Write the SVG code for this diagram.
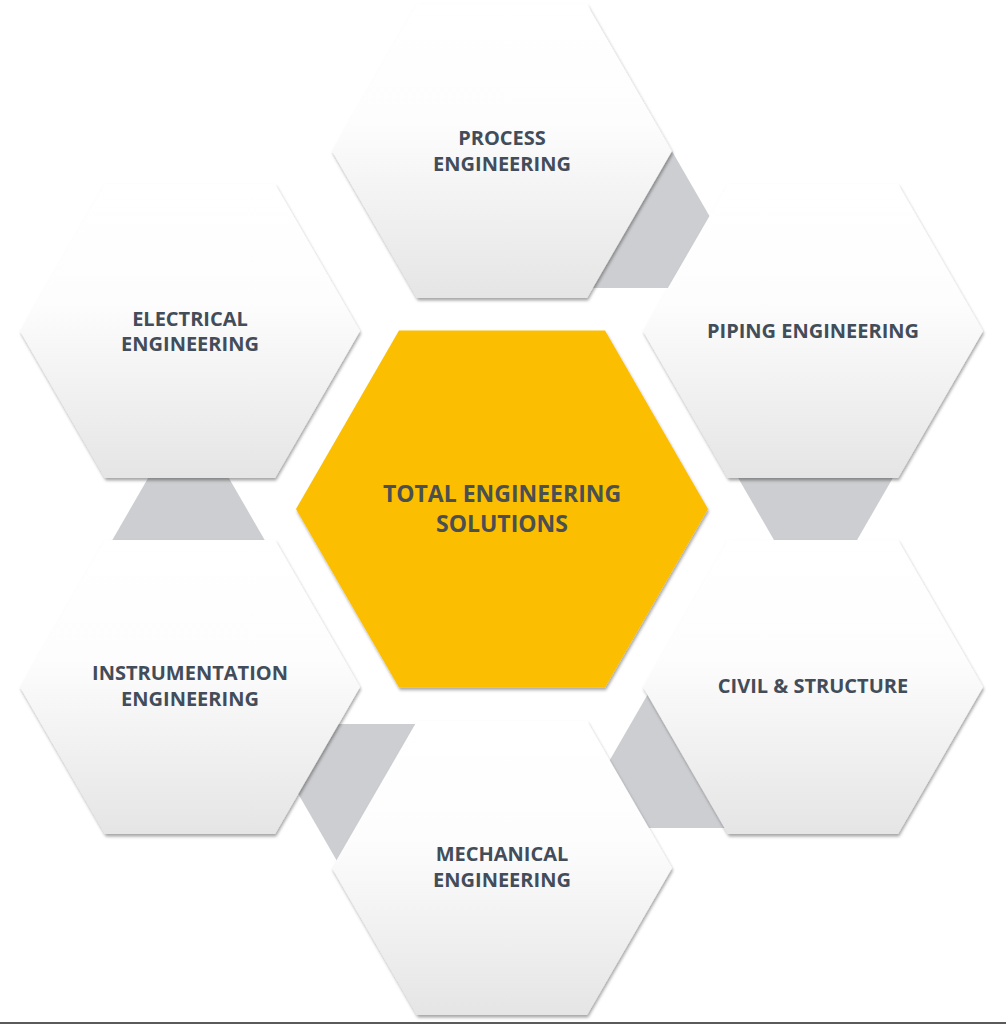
<svg xmlns="http://www.w3.org/2000/svg" width="1006" height="1024" viewBox="0 0 1006 1024">
  <style>
    .hex { fill: url(#hexGrad); filter: url(#shadow); }
    .core { fill: #fcbe00; filter: url(#shadow); }
    .conn { fill: #cdced1; }
    .lbl { font-family: "Open Sans", "Liberation Sans", sans-serif; font-weight: 700; font-size: 20px; fill: #434d59; text-anchor: middle; }
    .clbl { font-family: "Open Sans", "Liberation Sans", sans-serif; font-weight: 700; font-size: 23px; fill: #4a4f52; text-anchor: middle; }
  </style>
  <defs>
    <linearGradient id="hexGrad" x1="0" y1="0" x2="0" y2="1">
      <stop offset="0" stop-color="#ffffff"/>
      <stop offset="0.4" stop-color="#fdfdfd"/>
      <stop offset="1" stop-color="#e5e5e5"/>
    </linearGradient>
    <filter id="shadow" x="-10%" y="-10%" width="120%" height="120%">
      <feDropShadow dx="1" dy="2.5" stdDeviation="1.5" flood-color="#000000" flood-opacity="0.35"/>
    </filter>
    <polygon id="hexShape" points="-170,0 -85,-147 85,-147 170,0 85,147 -85,147"/>
  </defs>
  <rect width="1006" height="1024" fill="#ffffff"/>

  <g id="connectors">
    <polygon class="conn" points="590,9 751,288 429,288"/>
    <polygon class="conn" points="654.5,333 976.5,333 815.5,612"/>
    <polygon class="conn" points="731.6,549 892.6,828 570.6,828"/>
    <polygon class="conn" points="257.9,724 579.9,724 418.9,1003"/>
    <polygon class="conn" points="188.5,408 349.5,687 27.5,687"/>
  </g>

  <g id="process">
    <use href="#hexShape" class="hex" transform="translate(502,151)"/>
    <text class="lbl" x="502" y="144.5">PROCESS</text>
    <text class="lbl" x="502" y="170.5">ENGINEERING</text>
  </g>
  <g id="electrical">
    <use href="#hexShape" class="hex" transform="translate(190,331)"/>
    <text class="lbl" x="190" y="325.5">ELECTRICAL</text>
    <text class="lbl" x="190" y="350.5">ENGINEERING</text>
  </g>
  <g id="piping">
    <use href="#hexShape" class="hex" transform="translate(813,331)"/>
    <text class="lbl" x="813" y="338">PIPING ENGINEERING</text>
  </g>
  <g id="instrumentation">
    <use href="#hexShape" class="hex" transform="translate(190,687)"/>
    <text class="lbl" x="190" y="680">INSTRUMENTATION</text>
    <text class="lbl" x="190" y="706">ENGINEERING</text>
  </g>
  <g id="civil">
    <use href="#hexShape" class="hex" transform="translate(813,687)"/>
    <text class="lbl" x="813" y="693">CIVIL &amp; STRUCTURE</text>
  </g>
  <g id="mechanical">
    <use href="#hexShape" class="hex" transform="translate(502,868)"/>
    <text class="lbl" x="502" y="861">MECHANICAL</text>
    <text class="lbl" x="502" y="887">ENGINEERING</text>
  </g>
  <g id="total">
    <polygon class="core" points="296,509 399,330.6 605,330.6 708,509 605,687.4 399,687.4"/>
    <text class="clbl" x="502" y="501.5">TOTAL ENGINEERING</text>
    <text class="clbl" x="502" y="531.5">SOLUTIONS</text>
  </g>

  <rect x="0" y="1022" width="1006" height="2" fill="#5a5a5a"/>
</svg>
